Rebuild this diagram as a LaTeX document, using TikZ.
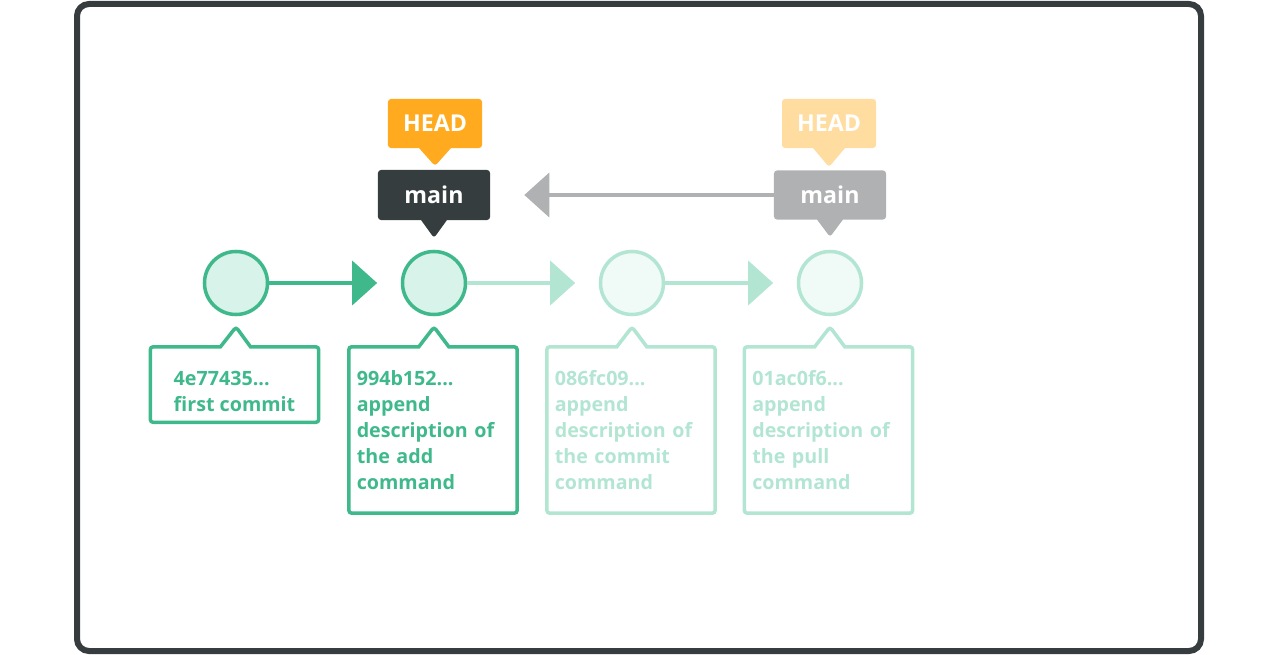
\documentclass[tikz,border=0pt]{standalone}
\usepackage{fontspec}
\setmainfont{Open Sans}
\usetikzlibrary{shapes.callouts,arrows.meta}

\definecolor{frame}{HTML}{373D3F}
\definecolor{gitgreen}{HTML}{3FB98C}
\definecolor{gitlight}{HTML}{D8F3E9}
\definecolor{fadegreen}{HTML}{B3E5D3}
\definecolor{fadelight}{HTML}{F0FAF6}
\definecolor{headorange}{HTML}{FFAA1F}
\definecolor{fadeorange}{HTML}{FFDDA1}
\definecolor{branchdark}{HTML}{363D3F}
\definecolor{branchgray}{HTML}{B0B1B3}

\begin{document}
\begin{tikzpicture}[x=0.025cm,y=-0.025cm]

    \useasboundingbox (0,0) rectangle (1280,655);
    \draw[line width=0.15cm, draw=frame, rounded corners=0.3cm] (77,4) rectangle (1201,651);

    \begin{scope}[every node/.style={circle,draw,line width=2.5pt,minimum size=1.575cm,inner sep=0pt}]
        \node[draw=gitgreen,fill=gitlight] (1) at (236,283) {};
        \node[draw=gitgreen,fill=gitlight] (2) at (434,283) {};
        \node[draw=fadegreen,fill=fadelight] (3) at (632,283) {};
        \node[draw=fadegreen,fill=fadelight] (4) at (830,283) {};
    \end{scope}

    \begin{scope}[every node/.style={rectangle callout,draw,line width=2.5pt,rounded corners=0.075cm,
            minimum width=4.21cm,anchor=north,align=left,callout pointer width=0.75cm,
            font=\bfseries\fontsize{14}{18.5}\selectfont},
            long/.style={minimum height=4.16cm,inner xsep=0.2cm,text width=3.81cm}]
        \node[draw=gitgreen,text=gitgreen,minimum height=1.89cm,callout absolute pointer={(236,327)}]
            (d1) at (234.5,345) {\rule{0pt}{20pt}4e77435...\\first commit};
        \node[long,draw=gitgreen,text=gitgreen,callout absolute pointer={(434,327)}]
            (d2) at (433,345) {994b152...\\append\\description of\\the add\\command};
        \node[long,draw=fadegreen,text=fadegreen,callout absolute pointer={(632,327)}]
            (d3) at (631,345) {086fc09...\\append\\description of\\the commit\\command};
        \node[long,draw=fadegreen,text=fadegreen,callout absolute pointer={(830,327)}]
            (d4) at (828.5,345) {01ac0f6...\\append\\description of\\the pull\\command};
    \end{scope}

    \begin{scope}[every node/.style={rectangle callout,text=white,rounded corners=0.075cm,
            font=\bfseries\fontsize{16.5}{20}\selectfont}]
        \node[fill=headorange,minimum width=2.35cm,minimum height=1.225cm,callout pointer width=0.8cm,
            callout absolute pointer={(435,166)}] (head1) at (435,123.5) {HEAD};
        \node[fill=branchdark,minimum width=2.8cm,minimum height=1.25cm,callout pointer width=0.65cm,
            callout absolute pointer={(434,238)}] (main1) at (434,195) {main};
        \node[fill=fadeorange,minimum width=2.35cm,minimum height=1.225cm,callout pointer width=0.8cm,
            callout absolute pointer={(829,167)}] (head2) at (829,123.5) {HEAD};
        \node[fill=branchgray,minimum width=2.8cm,minimum height=1.225cm,callout pointer width=0.65cm,
            callout absolute pointer={(830,237)}] (main2) at (830,195) {main};
    \end{scope}

    \begin{scope}[every edge/.style={draw,line width=2.85pt,shorten >=0.59cm,
            -{Triangle[length=0.625cm,width=1.1cm]}}]
        \path (1) edge [color=gitgreen] (2);
        \path (2) edge [color=fadegreen] (3);
        \path (3) edge [color=fadegreen] (4);
        \path (main2.west) edge [color=branchgray,shorten >=0.85cm] (main1.east);
    \end{scope}

\end{tikzpicture}
\end{document}
